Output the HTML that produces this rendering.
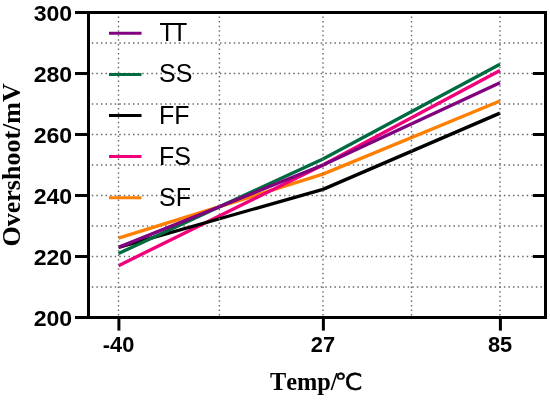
<!DOCTYPE html>
<html><head><meta charset="utf-8"><style>
html,body{margin:0;padding:0;background:#fff;}
svg{display:block;}
text{font-kerning:none;}
</style></head><body>
<svg width="550" height="400" viewBox="0 0 550 400">
<rect width="550" height="400" fill="#fff"/>
<g stroke="#6a6a6a" stroke-width="1.4" stroke-dasharray="1.5 3.078" fill="none">
<line x1="91.8" y1="287.00" x2="544" y2="287.00"/>
<line x1="91.8" y1="256.50" x2="544" y2="256.50"/>
<line x1="91.8" y1="226.00" x2="544" y2="226.00"/>
<line x1="91.8" y1="195.50" x2="544" y2="195.50"/>
<line x1="91.8" y1="165.00" x2="544" y2="165.00"/>
<line x1="91.8" y1="134.50" x2="544" y2="134.50"/>
<line x1="91.8" y1="104.00" x2="544" y2="104.00"/>
<line x1="91.8" y1="73.50" x2="544" y2="73.50"/>
<line x1="91.8" y1="43.00" x2="544" y2="43.00"/>
</g>
<g stroke-width="3" stroke-linecap="butt">
<line x1="109" y1="33.30" x2="141.5" y2="33.30" stroke="#800080"/>
<line x1="109" y1="74.40" x2="141.5" y2="74.40" stroke="#006a40"/>
<line x1="109" y1="115.50" x2="141.5" y2="115.50" stroke="#000000"/>
<line x1="109" y1="156.60" x2="141.5" y2="156.60" stroke="#f0007a"/>
<line x1="109" y1="197.70" x2="141.5" y2="197.70" stroke="#ff8000"/>
</g>
<g fill="none" stroke-width="3.35" stroke-linejoin="round" stroke-linecap="butt">
<polyline points="118.50,238.20 322.98,174.15 500.00,100.95" stroke="#ff8000"/>
<polyline points="118.50,265.65 322.98,165.00 500.00,70.45" stroke="#f0007a"/>
<polyline points="118.50,247.35 322.98,189.40 500.00,113.15" stroke="#000000"/>
<polyline points="118.50,253.45 322.98,158.90 500.00,64.35" stroke="#006a40"/>
<polyline points="118.50,247.35 322.98,165.00 500.00,82.65" stroke="#800080"/>
</g>
<g stroke="#6a6a6a" stroke-width="1.4" stroke-dasharray="1.5 3.078" fill="none">
<line x1="118.50" y1="315.55" x2="118.50" y2="14"/>
<line x1="219.40" y1="315.55" x2="219.40" y2="14"/>
<line x1="323.00" y1="315.55" x2="323.00" y2="14"/>
<line x1="411.50" y1="315.55" x2="411.50" y2="14"/>
<line x1="500.00" y1="315.55" x2="500.00" y2="14"/>
</g>
<g font-family="'Liberation Sans', Arial, sans-serif" font-size="25" fill="#000">
<text transform="translate(159.5,41.10) scale(1,1.04)" letter-spacing="-2.8">TT</text>
<text transform="translate(159,82.30) scale(1,1.04)">SS</text>
<text transform="translate(159,123.50) scale(1,1.04)">FF</text>
<text transform="translate(159,164.70) scale(1,1.04)">FS</text>
<text transform="translate(159,205.90) scale(1,1.04)">SF</text>
</g>
<g stroke="#000" stroke-width="3" fill="none">
<polyline points="75,12.5 545.5,12.5 545.5,317.5 75,317.5"/>
<line x1="88.5" y1="11" x2="88.5" y2="319"/>
<line x1="75" y1="317.50" x2="89" y2="317.50"/>
<line x1="75" y1="256.50" x2="89" y2="256.50"/>
<line x1="533" y1="256.50" x2="545" y2="256.50"/>
<line x1="75" y1="195.50" x2="89" y2="195.50"/>
<line x1="533" y1="195.50" x2="545" y2="195.50"/>
<line x1="75" y1="134.50" x2="89" y2="134.50"/>
<line x1="533" y1="134.50" x2="545" y2="134.50"/>
<line x1="75" y1="73.50" x2="89" y2="73.50"/>
<line x1="533" y1="73.50" x2="545" y2="73.50"/>
<line x1="75" y1="12.50" x2="89" y2="12.50"/>
<line x1="118.90" y1="317" x2="118.90" y2="330.6"/>
<line x1="323.38" y1="317" x2="323.38" y2="330.6"/>
<line x1="500.40" y1="317" x2="500.40" y2="330.6"/>
</g>
<g font-family="'Liberation Sans', Arial, sans-serif" font-weight="bold" font-size="23.1" fill="#000" text-anchor="end">
<text transform="translate(72.2,326.00) scale(1,0.985)">200</text>
<text transform="translate(72.2,265.00) scale(1,0.985)">220</text>
<text transform="translate(72.2,204.00) scale(1,0.985)">240</text>
<text transform="translate(72.2,143.00) scale(1,0.985)">260</text>
<text transform="translate(72.2,82.00) scale(1,0.985)">280</text>
<text transform="translate(72.2,21.00) scale(1,0.985)">300</text>
</g>
<g font-family="'Liberation Sans', Arial, sans-serif" font-weight="bold" font-size="21.8" fill="#000" text-anchor="middle">
<text transform="translate(118.50,351.6) scale(1,1.02)">-40</text>
<text transform="translate(322.98,351.6) scale(1,1.02)">27</text>
<text transform="translate(500.00,351.6) scale(1,1.02)">85</text>
</g>
<text transform="translate(269.9,390.35) scale(0.955,0.98)" font-family="'Liberation Serif', 'Times New Roman', serif" font-weight="bold" font-size="25.5">Temp/</text>
<text transform="translate(334.5,390) scale(1.07,1)" font-family="'DejaVu Sans', 'Noto Sans CJK SC', sans-serif" font-size="23.5" stroke="#000" stroke-width="0.45">℃</text>
<text transform="translate(20,246.5) rotate(-90)" font-family="'Liberation Serif', 'Times New Roman', serif" font-weight="bold" font-size="26">Overshoot/mV</text>
</svg>
</body></html>
